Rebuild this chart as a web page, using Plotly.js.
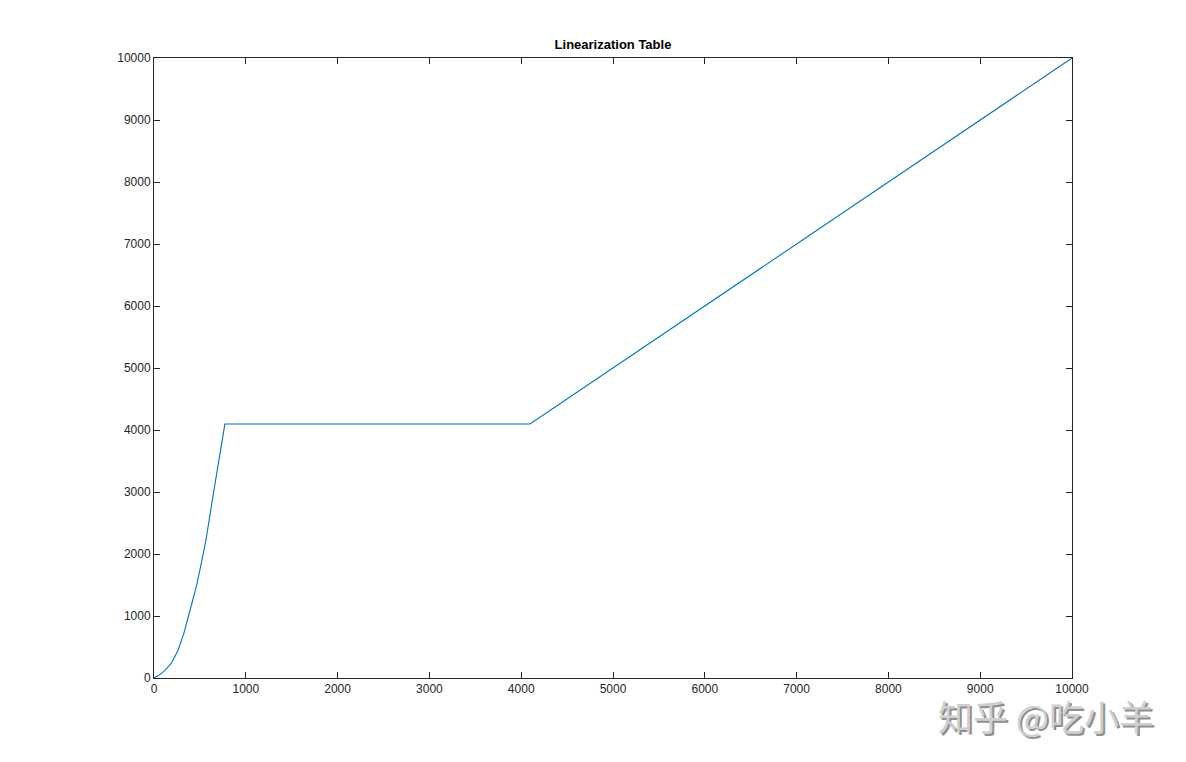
<!DOCTYPE html>
<html>
<head>
<meta charset="utf-8">
<script src="https://cdn.plot.ly/plotly-3.0.1.min.js"></script>
<style>html,body{margin:0;padding:0;background:#fff;}#chart{width:1186px;height:762px;}</style>
</head>
<body>
<div id="chart"></div>
<script>
// Data
const inputValues = [0, 60, 114, 187, 260, 325, 376, 420, 462, 515, 569, 630, 690, 743, 760, 772, 4096, 10000];
const outputValues = [0, 50, 115, 235, 440, 720, 1000, 1240, 1480, 1850, 2250, 2820, 3380, 3887, 4040, 4096, 4096, 10000];
const tickValues = [0, 1000, 2000, 3000, 4000, 5000, 6000, 7000, 8000, 9000, 10000];
const tickLabels = ['0', '1000', '2000', '3000', '4000', '5000', '6000', '7000', '8000', '9000', '10000'];
const titleText = 'Linearization Table';
const watermark = '知乎 @吃小羊';

const axisCommon = {
  range: [0, 10000],
  tickvals: tickValues,
  ticktext: tickLabels,
  ticks: 'inside',
  ticklen: 6,
  tickwidth: 1,
  tickcolor: '#262626',
  showline: true,
  linecolor: '#262626',
  linewidth: 1,
  mirror: 'ticks',
  showgrid: false,
  zeroline: false,
  tickfont: {family: 'Liberation Sans, Arial, sans-serif', size: 12, color: '#262626'}
};

const trace = {
  x: inputValues,
  y: outputValues,
  type: 'scatter',
  mode: 'lines',
  line: {color: '#0072BD', width: 1.1, shape: 'linear'},
  hoverinfo: 'x+y'
};

const layout = {
  width: 1186,
  height: 762,
  margin: {l: 154, r: 114, t: 58, b: 84},
  paper_bgcolor: '#ffffff',
  plot_bgcolor: '#ffffff',
  showlegend: false,
  title: {
    text: '<b>' + titleText + '</b>',
    font: {family: 'Liberation Sans, Arial, sans-serif', size: 13, color: '#000000'},
    x: 0.5, xref: 'paper', xanchor: 'center',
    y: 1 - 44/762, yref: 'container', yanchor: 'middle'
  },
  xaxis: Object.assign({}, axisCommon),
  yaxis: Object.assign({}, axisCommon),
  annotations: [
    {
      text: watermark, xref: 'paper', yref: 'paper', x: 1.0915, y: -0.06,
      xanchor: 'right', yanchor: 'middle', showarrow: false,
      xshift: 2, yshift: -2,
      font: {family: 'Noto Sans CJK SC, sans-serif', size: 35, color: '#909090'}
    },
    {
      text: watermark, xref: 'paper', yref: 'paper', x: 1.0915, y: -0.06,
      xanchor: 'right', yanchor: 'middle', showarrow: false,
      font: {family: 'Noto Sans CJK SC, sans-serif', size: 35, color: '#cfcfcf'}
    }
  ]
};

Plotly.newPlot('chart', [trace], layout, {displayModeBar: false, staticPlot: true});
</script>
</body>
</html>
